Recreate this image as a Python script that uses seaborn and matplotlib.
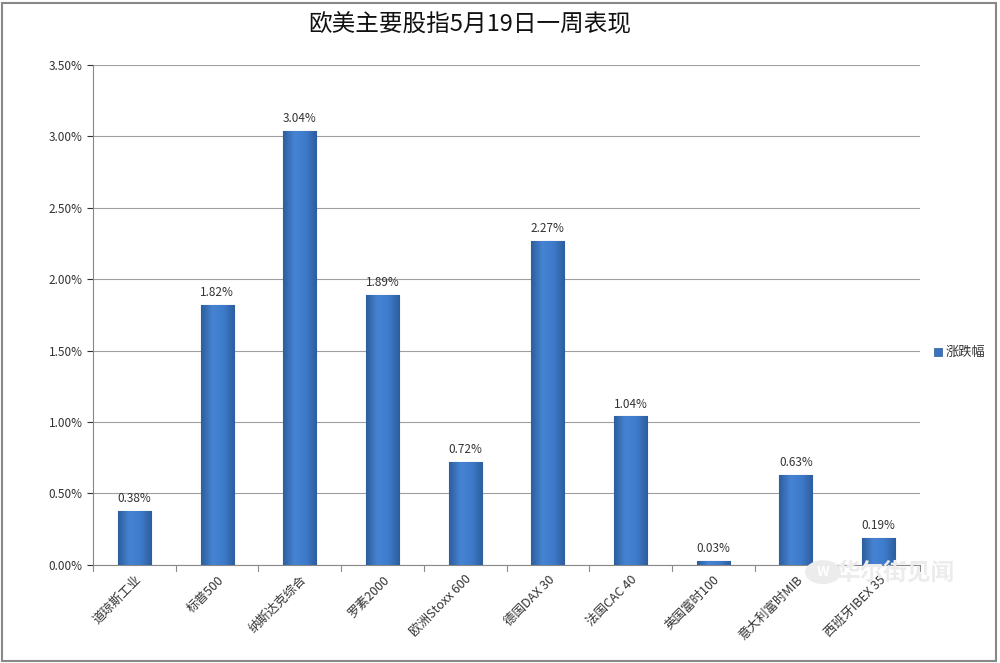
import numpy as np
import pandas as pd
import matplotlib
matplotlib.use("Agg")
import matplotlib.pyplot as plt
import seaborn as sns
from matplotlib.ticker import FuncFormatter, MultipleLocator
from matplotlib.patches import Rectangle, Circle
from matplotlib.colors import LinearSegmentedColormap

# ── Data ──────────────────────────────────────────────────────────────────────
indices = ['道琼斯工业', '标普500', '纳斯达克综合', '罗素2000', '欧洲Stoxx 600',
           '德国DAX 30', '法国CAC 40', '英国富时100', '意大利富时MIB', '西班牙IBEX 35']
changes = [0.38, 1.82, 3.04, 1.89, 0.72, 2.27, 1.04, 0.03, 0.63, 0.19]
series_name = '涨跌幅'
title = '欧美主要股指5月19日一周表现'

df = pd.DataFrame({'index': indices, 'change': changes})

sns.set_style('white')
plt.rcParams['font.family'] = ['Noto Sans CJK SC', 'DejaVu Sans']

fig = plt.figure(figsize=(10, 6.63), dpi=100)
ax = fig.add_axes([0.093, 0.148, 0.827, 0.754])

sns.barplot(data=df, x='index', y='change', color='#3a72c0', width=0.4,
            edgecolor='#2c5a98', linewidth=0.8, saturation=1, ax=ax, zorder=3)

# bevelled gradient fill, clipped to each bar
cmap = LinearSegmentedColormap.from_list('bev', ['#2d5e9e', '#4683d2', '#3f7bcb', '#2d5e9e'])
grad = np.linspace(0, 1, 64).reshape(1, -1)
for p in ax.patches:
    x0, w, h = p.get_x(), p.get_width(), p.get_height()
    im = ax.imshow(grad, cmap=cmap, aspect='auto', extent=(x0, x0 + w, 0, h),
                   zorder=3.5, interpolation='bicubic')
    im.set_clip_path(p)

for i, v in enumerate(changes):
    ax.text(i, v + 0.04, f'{v:.2f}%', ha='center', va='bottom',
            fontsize=8.5, color='#333333', zorder=5)

ax.set_ylim(0, 3.5)
ax.set_xlim(-0.5, len(indices) - 0.5)
ax.yaxis.set_major_locator(MultipleLocator(0.5))
ax.yaxis.set_major_formatter(FuncFormatter(lambda v, _: f'{v:.2f}%'))
ax.grid(axis='y', color='#a0a0a0', linewidth=0.8, zorder=0)
ax.set_xlabel('')
ax.set_ylabel('')
ax.tick_params(axis='y', labelsize=8.5, colors='#333333', length=4, left=True)
ax.set_xticks(range(len(indices)))
ax.set_xticklabels(indices, rotation=45, ha='right', rotation_mode='anchor',
                   fontsize=9, color='#333333')
ax.tick_params(axis='x', length=0, pad=6)
# category separator ticks
for b in np.arange(-0.5, len(indices), 1.0):
    ax.plot([b, b], [0, -0.04], color='#888888', lw=0.8, clip_on=False, zorder=2)

for s in ['top', 'right']:
    ax.spines[s].set_visible(False)
for s in ['left', 'bottom']:
    ax.spines[s].set_color('#888888')
    ax.spines[s].set_linewidth(0.8)

fig.text(0.47, 0.963, title, ha='center', va='center', fontsize=17,
         fontweight='medium', color='#111111')

# legend
fig.patches.append(Rectangle((0.934, 0.463), 0.008, 0.012, transform=fig.transFigure,
                             facecolor='#3a72c0', edgecolor='#2c5a98', lw=0.5))
fig.text(0.946, 0.469, series_name, ha='left', va='center', fontsize=9.5, color='#333333')

# watermark
fig.patches.append(Circle((0.823, 0.137), 0.018, transform=fig.transFigure,
                          facecolor='#ececec', edgecolor='none', zorder=0))
fig.text(0.823, 0.137, 'W', ha='center', va='center', fontsize=10,
         color='white', fontweight='bold')
fig.text(0.895, 0.137, '华尔街见闻', ha='center', va='center', fontsize=17,
         color='#ececec', fontweight='bold')

# outer frame
fig.patches.append(Rectangle((0.002, 0.003), 0.994, 0.993, transform=fig.transFigure,
                             fill=False, edgecolor='#888888', lw=1.5))

fig.savefig('out.png', dpi=100)
